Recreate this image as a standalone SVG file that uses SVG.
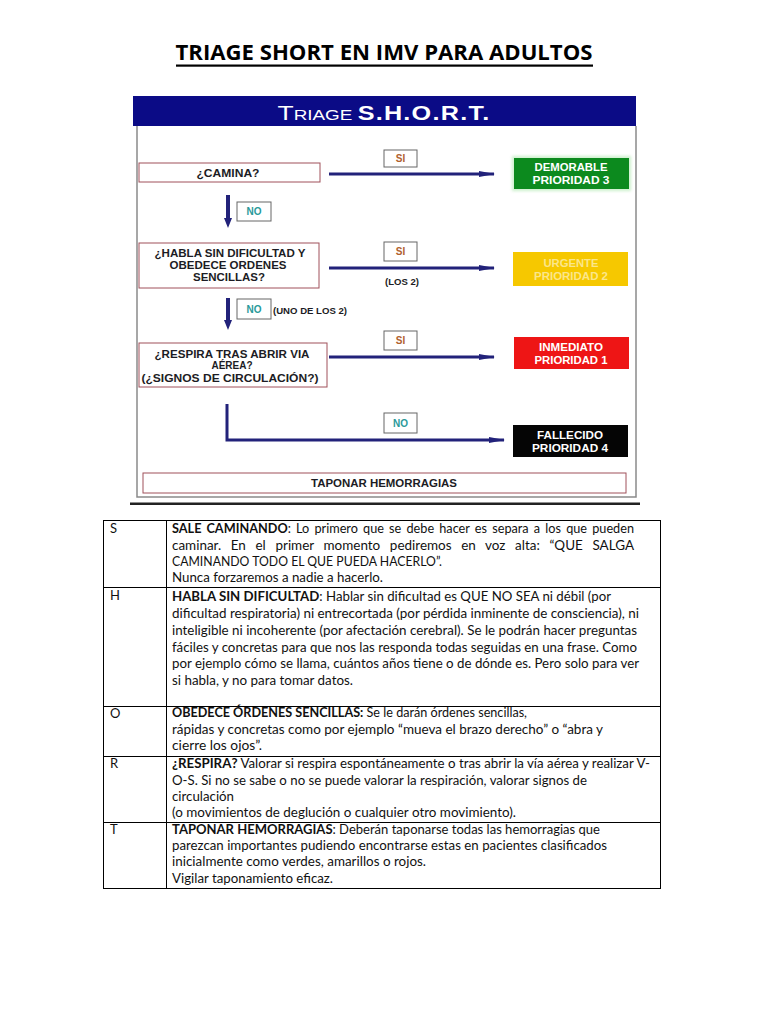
<svg xmlns="http://www.w3.org/2000/svg" width="768" height="1024" viewBox="0 0 768 1024">
<defs>
<marker id="ah" markerWidth="16" markerHeight="8" refX="15" refY="4" orient="auto" markerUnits="userSpaceOnUse">
<path d="M0,1 L16,4 L0,7 Z" fill="#22227a"/>
</marker>
<filter id="glow" x="-20%" y="-30%" width="140%" height="160%">
<feGaussianBlur stdDeviation="1.5"/>
</filter>
</defs>
<style>
.title{font-family:"Open Sans","Liberation Sans",sans-serif;font-weight:bold;font-size:22px;fill:#000}
.fc{font-family:"Liberation Sans",Arial,sans-serif;font-weight:bold;font-size:10px;fill:#1c1c24;text-anchor:middle}
.fcs{font-family:"Liberation Sans",Arial,sans-serif;font-weight:bold;font-size:9px;fill:#1c1c24;text-anchor:start}
.q{fill:#fff;stroke:#a0505a;stroke-width:1}
.lbl{fill:#fff;stroke:#666;stroke-width:1}
.si{font-family:"Liberation Sans",Arial,sans-serif;font-weight:bold;font-size:10px;fill:#b0602e;text-anchor:middle}
.no{font-family:"Liberation Sans",Arial,sans-serif;font-weight:bold;font-size:10px;fill:#2a9a9a;text-anchor:middle}
.out{font-family:"Liberation Sans",Arial,sans-serif;font-weight:bold;font-size:10px;fill:#fff;text-anchor:middle}
.outy{fill:#fbe68a}
.conn{fill:none;stroke:#22227a;stroke-width:3}
.down{fill:none;stroke:#22227a;stroke-width:4}
.tb{fill:none;stroke:#000;stroke-width:1}
.tx{font-family:Lato,"Open Sans",sans-serif;font-size:13px;fill:#111}
.b{font-weight:bold}
</style>
<rect width="768" height="1024" fill="#fff"/>

<g id="title">
<text class="title" x="384" y="60" text-anchor="middle" textLength="417" lengthAdjust="spacingAndGlyphs">TRIAGE SHORT EN IMV PARA ADULTOS</text>
<rect x="176" y="64.5" width="417" height="2.2" fill="#000"/>
</g>

<g id="frame">
<path d="M137,126 V497 H636 V126" fill="none" stroke="#8a8a8a" stroke-width="1.5"/>
<rect x="133" y="96" width="503" height="30" fill="#0b0b86"/>
<text x="384" y="120" text-anchor="middle" font-family="'Liberation Sans',Arial,sans-serif" fill="#fff" textLength="213" lengthAdjust="spacingAndGlyphs"><tspan font-size="21">T</tspan><tspan font-size="15">RIAGE </tspan><tspan font-size="20" font-weight="bold" letter-spacing="1">S.H.O.R.T.</tspan></text>
<rect x="130" y="502.5" width="510" height="2.5" fill="#222"/>
</g>

<g id="connectors">
<line class="conn" x1="329" y1="174" x2="494" y2="174" marker-end="url(#ah)"/>
<line class="conn" x1="329" y1="268" x2="494" y2="268" marker-end="url(#ah)"/>
<line class="conn" x1="329" y1="357" x2="494" y2="357" marker-end="url(#ah)"/>
<path class="conn" d="M227,404 V440 H504" marker-end="url(#ah)"/>
<line class="down" x1="228" y1="195" x2="228" y2="218"/>
<path d="M224,218 L232,218 L228,228 Z" fill="#22227a"/>
<line class="down" x1="228" y1="298" x2="228" y2="320"/>
<path d="M224,320 L232,320 L228,330 Z" fill="#22227a"/>
</g>

<g id="lbl-si1"><rect class="lbl" x="384" y="150" width="33" height="17"/><text class="si" x="400.5" y="162">SI</text></g>
<g id="lbl-no1"><rect class="lbl" x="237" y="202" width="34" height="19"/><text class="no" x="254" y="215">NO</text></g>
<g id="lbl-si2"><rect class="lbl" x="384" y="242" width="33" height="19"/><text class="si" x="400.5" y="255">SI</text></g>
<g id="lbl-los2"><text class="fcs" x="385" y="285" textLength="34" lengthAdjust="spacingAndGlyphs">(LOS 2)</text></g>
<g id="lbl-no2"><rect class="lbl" x="237" y="299" width="34" height="20"/><text class="no" x="254" y="313">NO</text><text class="fcs" x="273" y="314" textLength="74" lengthAdjust="spacingAndGlyphs">(UNO DE LOS 2)</text></g>
<g id="lbl-si3"><rect class="lbl" x="384" y="331" width="33" height="19"/><text class="si" x="400.5" y="344">SI</text></g>
<g id="lbl-no3"><rect class="lbl" x="384" y="413" width="33" height="20"/><text class="no" x="400.5" y="427">NO</text></g>

<g id="q-camina"><rect class="q" x="139" y="163" width="181" height="19"/><text class="fc" x="228" y="177" textLength="63" lengthAdjust="spacingAndGlyphs">¿CAMINA?</text></g>
<g id="q-habla"><rect class="q" x="139" y="243" width="180" height="45"/>
<text class="fc" x="230" y="257" textLength="151" lengthAdjust="spacingAndGlyphs">¿HABLA SIN DIFICULTAD Y</text>
<text class="fc" x="228" y="269" textLength="117" lengthAdjust="spacingAndGlyphs">OBEDECE ORDENES</text>
<text class="fc" x="229" y="281" textLength="72" lengthAdjust="spacingAndGlyphs">SENCILLAS?</text></g>
<g id="q-respira"><rect class="q" x="139" y="343" width="188" height="44"/>
<text class="fc" x="232" y="358" textLength="155" lengthAdjust="spacingAndGlyphs">¿RESPIRA TRAS ABRIR VIA</text>
<text class="fc" x="232" y="369" textLength="41" lengthAdjust="spacingAndGlyphs">AÉREA?</text>
<text class="fc" x="230" y="382" textLength="177" lengthAdjust="spacingAndGlyphs">(¿SIGNOS DE CIRCULACIÓN?)</text></g>

<g id="o-demorable"><rect x="512" y="156" width="119" height="35" fill="#9be39b" opacity="0.5" filter="url(#glow)"/><rect x="514" y="158" width="115" height="31" fill="#0c8a1e"/>
<text class="out" x="571" y="171" textLength="73" lengthAdjust="spacingAndGlyphs">DEMORABLE</text><text class="out" x="571" y="184" textLength="77" lengthAdjust="spacingAndGlyphs">PRIORIDAD 3</text></g>
<g id="o-urgente"><rect x="513" y="252" width="115" height="34" fill="#f6c800"/>
<text class="out outy" x="571" y="267" textLength="55" lengthAdjust="spacingAndGlyphs">URGENTE</text><text class="out outy" x="571" y="280" textLength="74" lengthAdjust="spacingAndGlyphs">PRIORIDAD 2</text></g>
<g id="o-inmediato"><rect x="514" y="337" width="115" height="32" fill="#ee1515"/>
<text class="out" x="571" y="351" textLength="64" lengthAdjust="spacingAndGlyphs">INMEDIATO</text><text class="out" x="571" y="364" textLength="73" lengthAdjust="spacingAndGlyphs">PRIORIDAD 1</text></g>
<g id="o-fallecido"><rect x="513" y="425" width="115" height="32" fill="#050505"/>
<text class="out" x="570" y="439" textLength="66" lengthAdjust="spacingAndGlyphs">FALLECIDO</text><text class="out" x="570" y="452" textLength="76" lengthAdjust="spacingAndGlyphs">PRIORIDAD 4</text></g>
<g id="taponar"><rect class="q" x="143" y="473" width="483" height="20"/><text class="fc" x="384" y="487" textLength="146" lengthAdjust="spacingAndGlyphs">TAPONAR HEMORRAGIAS</text></g>

<g id="table">
<rect class="tb" x="103.5" y="520.5" width="557" height="368"/>
<line class="tb" x1="166.5" y1="520" x2="166.5" y2="889"/>
<line class="tb" x1="103" y1="587.5" x2="661" y2="587.5"/>
<line class="tb" x1="103" y1="706.5" x2="661" y2="706.5"/>
<line class="tb" x1="103" y1="756.5" x2="661" y2="756.5"/>
<line class="tb" x1="103" y1="822.5" x2="661" y2="822.5"/>
<text class="tx" x="110" y="533">S</text>
<text class="tx" x="110" y="600">H</text>
<text class="tx" x="110" y="718">O</text>
<text class="tx" x="110" y="768">R</text>
<text class="tx" x="110" y="834">T</text>

<text class="tx" x="172" y="533" textLength="462" lengthAdjust="spacingAndGlyphs" word-spacing="2"><tspan class="b">SALE CAMINANDO</tspan>: Lo primero que se debe hacer es separa a los que pueden</text>
<text class="tx" x="172" y="550" textLength="462" lengthAdjust="spacingAndGlyphs" word-spacing="6">caminar. En el primer momento pediremos en voz alta: “QUE SALGA</text>
<text class="tx" x="172" y="566" textLength="270" lengthAdjust="spacingAndGlyphs">CAMINANDO TODO EL QUE PUEDA HACERLO”.</text>
<text class="tx" x="172" y="582" textLength="211" lengthAdjust="spacingAndGlyphs">Nunca forzaremos a nadie a hacerlo.</text>

<text class="tx" x="172" y="601" textLength="439" lengthAdjust="spacingAndGlyphs"><tspan class="b">HABLA SIN DIFICULTAD</tspan>: Hablar sin dificultad es QUE NO SEA ni débil (por</text>
<text class="tx" x="172" y="618" textLength="467" lengthAdjust="spacingAndGlyphs">dificultad respiratoria) ni entrecortada (por pérdida inminente de consciencia), ni</text>
<text class="tx" x="172" y="635" textLength="465" lengthAdjust="spacingAndGlyphs">inteligible ni incoherente (por afectación cerebral). Se le podrán hacer preguntas</text>
<text class="tx" x="172" y="652" textLength="465" lengthAdjust="spacingAndGlyphs">fáciles y concretas para que nos las responda todas seguidas en una frase. Como</text>
<text class="tx" x="172" y="668" textLength="467" lengthAdjust="spacingAndGlyphs">por ejemplo cómo se llama, cuántos años tiene o de dónde es. Pero solo para ver</text>
<text class="tx" x="172" y="685" textLength="181" lengthAdjust="spacingAndGlyphs">si habla, y no para tomar datos.</text>

<text class="tx" x="172" y="717" textLength="355" lengthAdjust="spacingAndGlyphs"><tspan class="b">OBEDECE ÓRDENES SENCILLAS:</tspan> Se le darán órdenes sencillas,</text>
<text class="tx" x="172" y="734" textLength="431" lengthAdjust="spacingAndGlyphs">rápidas y concretas como por ejemplo “mueva el brazo derecho” o “abra y</text>
<text class="tx" x="172" y="750" textLength="90" lengthAdjust="spacingAndGlyphs">cierre los ojos”.</text>

<text class="tx" x="172" y="768" textLength="478" lengthAdjust="spacingAndGlyphs"><tspan class="b">¿RESPIRA?</tspan> Valorar si respira espontáneamente o tras abrir la vía aérea y realizar V-</text>
<text class="tx" x="172" y="785" textLength="415" lengthAdjust="spacingAndGlyphs">O-S. Si no se sabe o no se puede valorar la respiración, valorar signos de</text>
<text class="tx" x="172" y="801" textLength="62" lengthAdjust="spacingAndGlyphs">circulación</text>
<text class="tx" x="172" y="817" textLength="344" lengthAdjust="spacingAndGlyphs">(o movimientos de deglución o cualquier otro movimiento).</text>

<text class="tx" x="172" y="834" textLength="428" lengthAdjust="spacingAndGlyphs"><tspan class="b">TAPONAR HEMORRAGIAS</tspan>: Deberán taponarse todas las hemorragias que</text>
<text class="tx" x="172" y="850" textLength="435" lengthAdjust="spacingAndGlyphs">parezcan importantes pudiendo encontrarse estas en pacientes clasificados</text>
<text class="tx" x="172" y="866" textLength="254" lengthAdjust="spacingAndGlyphs">inicialmente como verdes, amarillos o rojos.</text>
<text class="tx" x="172" y="883" textLength="161" lengthAdjust="spacingAndGlyphs">Vigilar taponamiento eficaz.</text>
</g>
</svg>
